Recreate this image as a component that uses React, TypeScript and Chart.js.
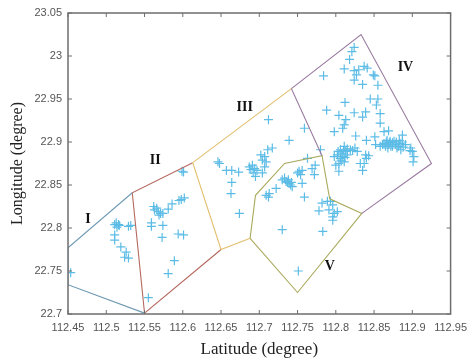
import React, { useEffect, useRef } from "react";
import { Chart, registerables } from "chart.js";

Chart.register(...registerables);

const xTickLabels = ["112.45", "112.5", "112.55", "112.6", "112.65", "112.7", "112.75", "112.8", "112.85", "112.9", "112.95"];
const yTickLabels = ["22.7", "22.75", "22.8", "22.85", "22.9", "22.95", "23", "23.05"];

const regionI = [[112.55, 22.701], [112.45, 22.734], [112.45, 22.777], [112.534, 22.841]];
const regionII = [[112.65, 22.775], [112.55, 22.701], [112.534, 22.841], [112.613, 22.876]];
const regionIII = [[112.688, 22.788], [112.65, 22.775], [112.613, 22.876], [112.742, 22.962]];
const regionIV = [[112.782, 22.884], [112.742, 22.962], [112.833, 23.025], [112.925, 22.875], [112.834, 22.817]];
const regionV = [[112.688, 22.788], [112.695, 22.838], [112.733, 22.875], [112.782, 22.884], [112.792, 22.834], [112.834, 22.817], [112.75, 22.725], [112.688, 22.788]];

const pointsI = [
  [112.4535, 22.748], [112.511, 22.804], [112.513, 22.806], [112.516, 22.804], [112.517, 22.803], [112.514, 22.801],
  [112.529, 22.802], [112.532, 22.803], [112.511, 22.792], [112.511, 22.786], [112.519, 22.778], [112.526, 22.772],
  [112.524, 22.766], [112.529, 22.765],
];
const pointsII = [
  [112.555, 22.719], [112.581, 22.747], [112.589, 22.762], [112.573, 22.789], [112.574, 22.803], [112.559, 22.806],
  [112.559, 22.802], [112.594, 22.793], [112.601, 22.792], [112.562, 22.825], [112.563, 22.821], [112.568, 22.819],
  [112.569, 22.815], [112.574, 22.817], [112.581, 22.822], [112.586, 22.828], [112.595, 22.832], [112.598, 22.833],
  [112.602, 22.835], [112.601, 22.865], [112.599, 22.866], [112.566, 22.823], [112.571, 22.817],
];
const pointsIII = [
  [112.646, 22.877], [112.648, 22.875], [112.657, 22.867], [112.664, 22.867], [112.673, 22.865], [112.664, 22.853],
  [112.663, 22.84], [112.674, 22.817], [112.687, 22.871], [112.691, 22.873], [112.694, 22.869], [112.697, 22.867],
  [112.689, 22.868], [112.692, 22.864], [112.695, 22.86], [112.704, 22.864], [112.704, 22.879], [112.707, 22.883],
  [112.709, 22.877], [112.702, 22.885], [112.711, 22.891], [112.717, 22.893], [112.739, 22.902], [112.707, 22.871],
  [112.712, 22.926], [112.759, 22.916],
];
const pointsIV = [
  [112.824, 23.01], [112.821, 23.005], [112.818, 22.996], [112.811, 22.985], [112.824, 22.983], [112.83, 22.984],
  [112.837, 22.988], [112.841, 22.986], [112.827, 22.978], [112.824, 22.972], [112.849, 22.978], [112.851, 22.977],
  [112.835, 22.967], [112.855, 22.966], [112.784, 22.977], [112.845, 22.95], [112.855, 22.95], [112.853, 22.943],
  [112.812, 22.946], [112.788, 22.937], [112.824, 22.934], [112.835, 22.929], [112.839, 22.935], [112.858, 22.933],
  [112.858, 22.922], [112.804, 22.931], [112.813, 22.926], [112.811, 22.92], [112.809, 22.916], [112.798, 22.912],
  [112.826, 22.907], [112.84, 22.902], [112.851, 22.906], [112.863, 22.912], [112.869, 22.913], [112.887, 22.908],
  [112.852, 22.897], [112.863, 22.898], [112.867, 22.902], [112.869, 22.897], [112.874, 22.899], [112.878, 22.897],
  [112.882, 22.895], [112.887, 22.9], [112.891, 22.897], [112.858, 22.895], [112.868, 22.893], [112.885, 22.891],
  [112.898, 22.893], [112.9, 22.889], [112.902, 22.883], [112.901, 22.877], [112.811, 22.895], [112.806, 22.891],
  [112.813, 22.889], [112.802, 22.885], [112.798, 22.883], [112.809, 22.883], [112.815, 22.885], [112.811, 22.877],
  [112.804, 22.875], [112.8, 22.873], [112.804, 22.866], [112.825, 22.893], [112.828, 22.889], [112.819, 22.891],
  [112.839, 22.885], [112.843, 22.884], [112.84, 22.881], [112.832, 22.875], [112.837, 22.875], [112.835, 22.867],
  [112.78, 22.891], [112.872, 22.895], [112.876, 22.901], [112.88, 22.893], [112.865, 22.895], [112.884, 22.898],
  [112.871, 22.901], [112.808, 22.887], [112.81, 22.89], [112.806, 22.881], [112.803, 22.889], [112.812, 22.882],
  [112.807, 22.878], [112.815, 22.892], [112.822, 22.89], [112.87, 22.899], [112.874, 22.895], [112.879, 22.9],
  [112.883, 22.902], [112.888, 22.894], [112.866, 22.9], [112.861, 22.897], [112.897, 22.89],
];
const pointsV = [
  [112.709, 22.838], [112.713, 22.84], [112.712, 22.836], [112.722, 22.846], [112.73, 22.856], [112.733, 22.858],
  [112.735, 22.854], [112.738, 22.856], [112.741, 22.85], [112.743, 22.848], [112.739, 22.852], [112.752, 22.866],
  [112.754, 22.862], [112.75, 22.864], [112.756, 22.867], [112.756, 22.852], [112.759, 22.836], [112.769, 22.869],
  [112.773, 22.873], [112.772, 22.862], [112.763, 22.881], [112.782, 22.829], [112.789, 22.831], [112.793, 22.831],
  [112.778, 22.82], [112.791, 22.821], [112.796, 22.827], [112.802, 22.819], [112.796, 22.813], [112.798, 22.817],
  [112.796, 22.809], [112.783, 22.796], [112.73, 22.798], [112.751, 22.75], [112.737, 22.853], [112.742, 22.853],
];

const regionLabels = ["I", "II", "III", "IV", "V"];
const regionLabelPositions = [[112.476, 22.81], [112.564, 22.879], [112.681, 22.94], [112.891, 22.987], [112.792, 22.755]];

const toXY = (list: number[][]) => list.map(([x, y]) => ({ x, y }));

const outline = (list: number[][], color: string) => ({
  type: "scatter" as const,
  data: toXY(list),
  showLine: true,
  borderColor: color,
  borderWidth: 1.1,
  pointRadius: 0,
  tension: 0,
});

const frameColor = "#6e6e6e";

const decorations = {
  id: "decorations",
  afterDatasetsDraw(chart: any) {
    const { ctx, chartArea: a, scales } = chart;
    ctx.save();
    ctx.strokeStyle = frameColor;
    ctx.lineWidth = 1.5;
    ctx.strokeRect(a.left, a.top, a.right - a.left, a.bottom - a.top);
    ctx.lineWidth = 1;
    ctx.beginPath();
    scales.x.ticks.forEach((_: any, i: number) => {
      const p = scales.x.getPixelForTick(i);
      ctx.moveTo(p, a.bottom); ctx.lineTo(p, a.bottom - 4);
      ctx.moveTo(p, a.top); ctx.lineTo(p, a.top + 4);
    });
    scales.y.ticks.forEach((_: any, i: number) => {
      const p = scales.y.getPixelForTick(i);
      ctx.moveTo(a.left, p); ctx.lineTo(a.left + 4, p);
      ctx.moveTo(a.right, p); ctx.lineTo(a.right - 4, p);
    });
    ctx.stroke();
    ctx.fillStyle = "#111";
    ctx.font = "bold 14px 'Liberation Serif'";
    ctx.textAlign = "center";
    ctx.textBaseline = "middle";
    regionLabels.forEach((t, i) => {
      const [x, y] = regionLabelPositions[i];
      ctx.fillText(t, scales.x.getPixelForValue(x), scales.y.getPixelForValue(y));
    });
    ctx.restore();
  },
};

export default function App() {
  const ref = useRef<HTMLCanvasElement>(null);
  useEffect(() => {
    const chart = new Chart(ref.current!, {
      type: "scatter",
      data: {
        datasets: [
          outline(regionI, "#6f9bb5"),
          outline(regionIII, "#e3bf6e"),
          outline(regionII, "#b5695f"),
          outline(regionIV, "#9a7aa0"),
          outline(regionV, "#aaaa5e"),
          ...[pointsI, pointsII, pointsIII, pointsIV, pointsV].map((list) => ({
            data: toXY(list),
            pointStyle: "cross",
            pointRadius: 4.5,
            pointBorderWidth: 1.2,
            pointBorderColor: "#5cbce6",
            pointBackgroundColor: "#5cbce6",
            showLine: false,
          })),
        ],
      },
      options: {
        animation: false,
        responsive: false,
        layout: { padding: { left: 0, top: 13, right: 22, bottom: 0 } },
        plugins: { legend: { display: false }, tooltip: { enabled: false } },
        scales: {
          x: {
            type: "linear",
            min: 112.45,
            max: 112.95,
            afterFit: (s: any) => { s.height = 46; },
            grid: { display: false, drawTicks: false },
            border: { display: false },
            afterBuildTicks: (s: any) => { s.ticks = xTickLabels.map((l) => ({ value: Number(l) })); },
            ticks: {
              autoSkip: false,
              maxRotation: 0,
              padding: 7,
              color: "#555",
              font: { family: "'Liberation Sans'", size: 11 },
              callback: (_: any, i: number) => xTickLabels[i],
            },
            title: { display: true, text: "Latitude (degree)", color: "#222", padding: { top: 0, bottom: 0 }, font: { family: "'Liberation Serif'", size: 17 } },
          },
          y: {
            type: "linear",
            min: 22.7,
            max: 23.05,
            afterFit: (s: any) => { s.width = 68; },
            grid: { display: false, drawTicks: false },
            border: { display: false },
            afterBuildTicks: (s: any) => { s.ticks = yTickLabels.map((l) => ({ value: Number(l) })); },
            ticks: {
              autoSkip: false,
              padding: 6,
              color: "#555",
              font: { family: "'Liberation Sans'", size: 11 },
              callback: (_: any, i: number) => yTickLabels[i],
            },
            title: { display: true, text: "Longitude (degree)", color: "#222", padding: { top: 8, bottom: 8 }, font: { family: "'Liberation Serif'", size: 16 } },
          },
        },
      },
      plugins: [decorations],
    } as any);
    return () => chart.destroy();
  }, []);
  return (
    <canvas
      ref={ref}
      width={474}
      height={360}
      style={{ position: "absolute", left: 0, top: 0, width: 474, height: 360, filter: "blur(0.5px)" }}
    />
  );
}
